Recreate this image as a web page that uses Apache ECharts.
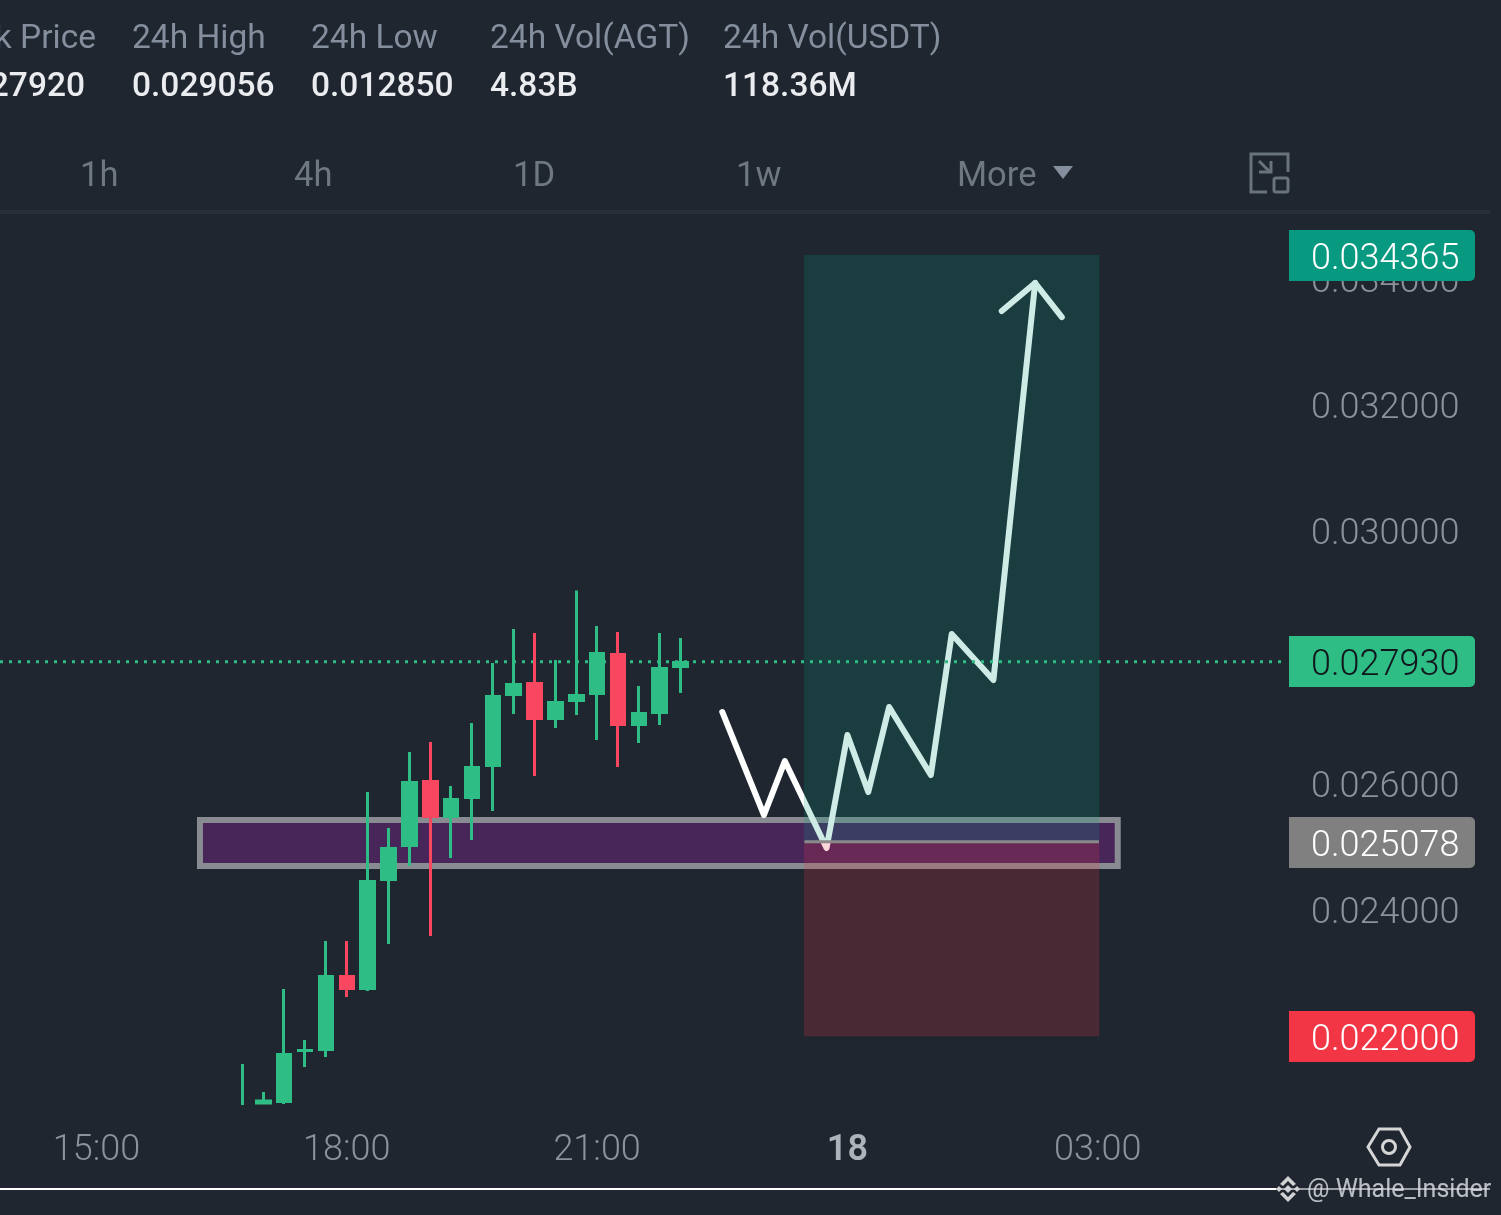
<!DOCTYPE html>
<html>
<head>
<meta charset="utf-8">
<style>html,body{margin:0;padding:0;background:#1f2630;overflow:hidden}#c{width:1501px;height:1215px}</style>
<script src="https://cdn.jsdelivr.net/npm/echarts@6/dist/echarts.min.js"></script>
</head>
<body>
<div id="c"></div>
<script>
// Candles (15-minute bars), x in hours since the previous midnight
const candleHours = [16.75,17,17.25,17.5,17.75,18,18.25,18.5,18.75,19,19.25,19.5,19.75,20,20.25,20.5,20.75,21,21.25,21.5,21.75,22];
const opens  = [.02078,.02094,.020963,.02177,.021786,.022942,.022753,.024479,.025018,.026031,.025477,.025778,.026285,.02741,.027584,.02703,.027315,.027426,.028043,.026935,.027125,.027854];
const closes = [.02082,.02097,.021707,.021772,.022942,.022753,.024447,.02497,.026016,.025477,.025746,.026253,.027378,.027568,.02703,.027283,.027394,.028059,.026935,.027109,.027822,.027917];
const lows   = [.02075,.02092,.020923,.021509,.021667,.022618,.022713,.023457,.024693,.023584,.02482,.025105,.025564,.027101,.026119,.026879,.027085,.026689,.026261,.026642,.026927,.027434];
const highs  = [.021556,.021113,.022745,.021937,.023505,.023505,.025865,.025295,.026499,.026657,.02596,.026958,.027909,.028448,.028384,.027956,.029056,.028495,.0284,.027545,.028384,.028305];

// Drawn projection line
const pathHours  = [22.5,23,23.25,23.75,24,24.25,24.5,25,25.25,25.75,26.25];
const pathPrices = [.027133,.025501,.026356,.024978,.026768,.025865,.027212,.026135,.028368,.02764,.033929];
const arrowHours  = [25.85,26.25,26.57];
const arrowPrices = [.033485,.033929,.03339];

// Price levels
const currentPrice = .02793, entryPrice = .025078, targetPrice = .034365, stopPrice = .022;
const zoneHours = [16.24,27.24], zonePrices = [.025422,.024693];
const positionHours = [23.485,27.015];

// Axes
const axisHours = [13.843,29.197], axisPrices = [.020923,.035038];
const xTickHours = [15,18,21,24,27], xTickLabels = ['15:00','18:00','21:00','18','03:00'];
const yTicks = [.022,.024,.026,.028,.03,.032,.034];

// Header text
const statNames  = ['Mark Price','24h High','24h Low','24h Vol(AGT)','24h Vol(USDT)'];
const statValues = ['0.027920','0.029056','0.012850','4.83B','118.36M'];
const tabNames   = ['1h','4h','1D','1w','More'];

const BG='#1f2630', GREEN='#2ebd85', RED='#f9475f';
const NUM='Roboto, sans-serif';

const chart = echarts.init(document.getElementById('c'), null, {renderer:'canvas'});

function rectSeries(z, fill, stroke, lw, rows){
  return {type:'custom', z, silent:true, clip:false, data:rows, encode:{x:[0,2],y:[1,3]},
    renderItem(p,api){
      const a=api.coord([api.value(0),api.value(1)]), b=api.coord([api.value(2),api.value(3)]);
      return {type:'rect', shape:{x:a[0],y:a[1],width:b[0]-a[0],height:b[1]-a[1]},
        style:{fill, stroke, lineWidth:lw}};
    }};
}
function lineSeries(z,color,width,data,extra){
  return Object.assign({type:'line',z,silent:true,symbol:'none',animation:false,clip:false,data,
    lineStyle:{color,width,cap:'round',join:'round'}},extra||{});
}
function tagSeries(rows){
  return {type:'custom', z:20, silent:true, clip:false, data:rows.map(r=>[axisHours[0],r[0]]),
    encode:{x:0,y:1},
    renderItem(p,api){
      const y=Math.round(api.coord([axisHours[0],api.value(1)])[1]-0.2)+0.5, r=rows[p.dataIndex];
      return {type:'group',children:[
        {type:'rect',shape:{x:1289,y:y-25.5,width:186,height:51,r:[0,5,5,0]},style:{fill:r[1]}},
        {type:'text',x:1311,y:y+4.5,style:{text:api.value(1).toFixed(6),fill:r[2],font:'300 36px '+NUM,textAlign:'left',textVerticalAlign:'middle'}}
      ]};
    }};
}

const statX=[96,132,311,490,723], tabX=[80,294,513,736,957];
const graphics=[];
statNames.forEach((s,i)=>{
  graphics.push({type:'text',x:statX[i],y:40,z:30,style:{text:s,fill:'#848e9c',font:'400 33.5px '+NUM,textAlign:i?'left':'right',textVerticalAlign:'middle'}});
  graphics.push({type:'text',x:i?statX[i]:85,y:88,z:30,style:{text:statValues[i],fill:'#eaecef',font:'500 33.5px '+NUM,textAlign:i?'left':'right',textVerticalAlign:'middle'}});
});
tabNames.forEach((s,i)=>graphics.push({type:'text',x:tabX[i],y:177,z:30,style:{text:s,fill:'#6f7782',font:'400 34.5px '+NUM,textAlign:'left',textVerticalAlign:'middle'}}));
graphics.push(
  {type:'rect',z:30,shape:{x:200,y:1105,width:80,height:16},style:{fill:BG}},
  {type:'polygon',z:30,shape:{points:[[1053,166],[1073,166],[1063,179]]},style:{fill:'#848e9c'}},
  {type:'rect',z:30,shape:{x:0,y:210,width:1490,height:4},style:{fill:'#282f3a'}},
  {type:'polyline',z:30,shape:{points:[[1267,192],[1251,192],[1251,154],[1288,154],[1288,172]]},style:{fill:'none',stroke:'#68737d',lineWidth:3}},
  {type:'polyline',z:30,shape:{points:[[1259,161],[1270,172]]},style:{fill:'none',stroke:'#68737d',lineWidth:3}},
  {type:'polyline',z:30,shape:{points:[[1259,172],[1271,172],[1271,161]]},style:{fill:'none',stroke:'#68737d',lineWidth:3}},
  {type:'rect',z:30,shape:{x:1274,y:178,width:14,height:14,r:2},style:{fill:'none',stroke:'#68737d',lineWidth:3}},
  {type:'polygon',z:30,shape:{points:[[1368,1147],[1379,1129],[1400,1129],[1410,1147],[1400,1165],[1379,1165]]},style:{fill:'none',stroke:'#d6d6d6',lineWidth:3}},
  {type:'circle',z:30,shape:{cx:1389,cy:1147,r:6.5},style:{fill:'none',stroke:'#d6d6d6',lineWidth:3}},
  {type:'rect',z:30,shape:{x:0,y:1188,width:1276,height:2},style:{fill:'#ffffff'}},
  {type:'rect',z:30,shape:{x:1276,y:1188,width:214,height:2},style:{fill:'rgba(255,255,255,.55)'}},
  {type:'polygon',z:31,shape:{points:[[1288,1185],[1292,1189],[1288,1193],[1284,1189]]},style:{fill:'#d0d2d4'}},
  {type:'polygon',z:31,shape:{points:[[1279,1186],[1282,1189],[1279,1192],[1276,1189]]},style:{fill:'#d0d2d4'}},
  {type:'polygon',z:31,shape:{points:[[1297,1186],[1300,1189],[1297,1192],[1294,1189]]},style:{fill:'#d0d2d4'}},
  {type:'polygon',z:31,shape:{points:[[1288,1176],[1296,1184],[1293,1186],[1288,1181],[1283,1186],[1280,1184]]},style:{fill:'#d0d2d4'}},
  {type:'polygon',z:31,shape:{points:[[1288,1202],[1280,1194],[1283,1192],[1288,1197],[1293,1192],[1296,1194]]},style:{fill:'#d0d2d4'}},
  {type:'text',x:1307,y:1191,z:31,style:{text:'@ Whale_Insider',fill:'rgba(225,228,232,.8)',font:'400 25px '+NUM,textAlign:'left',textVerticalAlign:'middle'}}
);

chart.setOption({
  animation:false,
  backgroundColor:BG,
  grid:{left:0,top:213,width:1281,height:891,containLabel:false},
  xAxis:{type:'value',min:axisHours[0],max:axisHours[1],
    axisLine:{show:false},axisTick:{show:false},splitLine:{show:false},
    axisLabel:{customValues:xTickHours,margin:29,color:'#8b929c',fontFamily:NUM,fontSize:36,fontWeight:300,
      formatter:v=>{const i=xTickHours.indexOf(v);const t=xTickLabels[i];return v===24?'{b|'+t+'}':t;},
      rich:{b:{fontFamily:NUM,fontSize:36,fontWeight:600,color:'#adb3bb'}}}},
  yAxis:{type:'value',position:'right',min:axisPrices[0],max:axisPrices[1],
    axisLine:{show:false},axisTick:{show:false},splitLine:{show:false},
    axisLabel:{customValues:yTicks,margin:30,align:'left',
      formatter:v=>'{a|'+v.toFixed(6)+'}',
      rich:{a:{color:'#8b929c',fontFamily:NUM,fontSize:36,fontWeight:300,padding:[8,0,0,0]}}}},
  graphic:{elements:graphics},
  series:[
    rectSeries(1,'#48265a','#888b92',6,[[zoneHours[0],zonePrices[0],zoneHours[1],zonePrices[1]]]),
    lineSeries(3,'#ffffff',6,pathHours.map((h,i)=>[h,pathPrices[i]])),
    lineSeries(3,'#ffffff',6,arrowHours.map((h,i)=>[h,arrowPrices[i]])),
    rectSeries(5,'rgba(8,153,129,.2)','rgba(8,153,129,.12)',1,[[positionHours[0],targetPrice,positionHours[1],entryPrice]]),
    rectSeries(5,'rgba(242,54,69,.2)','rgba(242,54,69,.12)',1,[[positionHours[0],entryPrice,positionHours[1],stopPrice]]),
    lineSeries(6,'#8a8a8a',3,positionHours.map(h=>[h,entryPrice]),{lineStyle:{color:'#8a8a8a',width:3,cap:'butt'}}),
    lineSeries(6,GREEN,3,axisHours.map(h=>[h,currentPrice]),{lineStyle:{color:GREEN,width:3,type:[3,6],cap:'butt'}}),
    {type:'candlestick',z:7,silent:true,barWidth:14,clip:true,
      data:candleHours.map((h,i)=>[h,opens[i],closes[i],lows[i],highs[i]]),
      encode:{x:0,y:[1,2,3,4]},
      itemStyle:{color:GREEN,color0:RED,borderColor:GREEN,borderColor0:RED,borderWidth:3}},
    tagSeries([[targetPrice,'#089981','#ffffff'],[currentPrice,GREEN,'#10161c'],[entryPrice,'#808080','#ffffff'],[stopPrice,'#f23645','#ffffff']])
  ]
});
</script>
</body>
</html>
